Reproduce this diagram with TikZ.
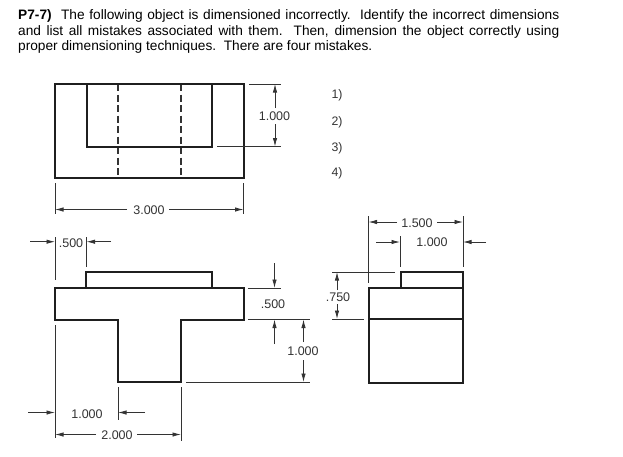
\documentclass[tikz,border=0pt]{standalone}
\usepackage{fontspec}
\setmainfont{Liberation Sans}
\usetikzlibrary{arrows.meta}
\definecolor{dimc}{gray}{0.2}
\tikzset{
  x=1pt,y=-1pt,
  obj/.style={draw=black!88,line width=2pt,line join=miter},
  thinobj/.style={draw=black!88,line width=2pt},
  hid/.style={draw=black!80,line width=1.5pt,dash pattern=on 7pt off 3.5pt},
  ext/.style={draw=dimc,line width=0.8pt},
  dimarr/.style={draw=dimc,line width=0.8pt,-{Latex[length=8.5pt,width=4.4pt]}},
  dimtxt/.style={text=dimc,font=\fontsize{12.5pt}{14pt}\selectfont,inner sep=0pt},
  titletxt/.style={anchor=base west,inner sep=0pt,text=black,font=\fontsize{13.7pt}{16pt}\selectfont},
  listtxt/.style={text=dimc,font=\fontsize{12.3pt}{14pt}\selectfont,inner sep=0pt}
}
\begin{document}
\begin{tikzpicture}
\useasboundingbox (0,0) rectangle (623,456);
% title
\node[titletxt] (t1) at (18,19.5) {\makebox[541pt][s]{\textbf{P7-7)}\ \ The following object is dimensioned incorrectly.\ \ Identify the incorrect dimensions}};
\node[titletxt] (t2) at (18,35) {\makebox[541pt][s]{and list all mistakes associated with them.\ \ Then, dimension the object correctly using}};
\node[titletxt] (t3) at (18,50.5) {proper dimensioning techniques.\ \ There are four mistakes.};
% list
\node[listtxt] (l1) at (337,95) {1)};
\node[listtxt] (l2) at (337,122) {2)};
\node[listtxt] (l3) at (337,148) {3)};
\node[listtxt] (l4) at (337,173) {4)};
% top view
\draw[hid] (118,84) -- (118,178);
\draw[hid] (181,84) -- (181,178);
\draw[obj] (55,84) rectangle (244,178);
\draw[thinobj] (86.5,84) -- (86.5,147) -- (212,147) -- (212,84);
% front view
\draw[thinobj] (86,288) -- (86,272) -- (212,272) -- (212,288);
\draw[obj] (55,288) -- (244,288) -- (244,319.5) -- (181,319.5) -- (181,382) -- (118,382) -- (118,319.5) -- (55,319.5) -- cycle;
% side view
\draw[thinobj] (400.5,288) -- (400.5,272) -- (463,272);
\draw[obj] (368.5,382.5) -- (368.5,288) -- (463,288) -- (463,382.5) -- cycle;
\draw[obj] (463,288) -- (463,271);
\draw[thinobj] (368.5,319) -- (463,319);
% labels
\node[dimtxt] (d1) at (274.5,116) {1.000};
\node[dimtxt] (d2) at (149,210) {3.000};
\node[dimtxt] (d3) at (71,243) {.500};
\node[dimtxt] (d4) at (273,304) {.500};
\node[dimtxt] (d5) at (303,351) {1.000};
\node[dimtxt] (d6) at (87,414.5) {1.000};
\node[dimtxt] (d7) at (117,435.5) {2.000};
\node[dimtxt] (d8) at (417,223) {1.500};
\node[dimtxt] (d9) at (432,242.5) {1.000};
\node[dimtxt] (d10) at (338,297) {.750};
% 1.000 top
\draw[ext] (249,84) -- (281,84) (217,146.5) -- (281,146.5);
\draw[dimarr] (275,108) -- (275,84);
\draw[dimarr] (275,124) -- (275,146.5);
% 3.000
\draw[ext] (55,183) -- (55,214) (243.5,183) -- (243.5,214);
\draw[dimarr] (127,209.5) -- (55,209.5);
\draw[dimarr] (169,209.5) -- (243.5,209.5);
% .500 top
\draw[ext] (55,237) -- (55,280) (86.5,237) -- (86.5,267);
\draw[dimarr] (30,241.7) -- (55,241.7);
\draw[dimarr] (111,241.7) -- (86.5,241.7);
% .500 right
\draw[ext] (248,288) -- (281,288) (248,319.5) -- (310,319.5);
\draw[dimarr] (274.5,263) -- (274.5,288);
\draw[dimarr] (274.5,344) -- (274.5,319.5);
% 1.000 right
\draw[ext] (186,382) -- (310,382);
\draw[dimarr] (303.5,342) -- (303.5,319.5);
\draw[dimarr] (303.5,360) -- (303.5,382);
% bottom
\draw[ext] (55,325) -- (55,438) (118,387) -- (118,420) (181,387) -- (181,441);
\draw[dimarr] (28,412.5) -- (55,412.5);
\draw[dimarr] (145,412.5) -- (118,412.5);
\draw[dimarr] (96,434.5) -- (55,434.5);
\draw[dimarr] (137,434.5) -- (181,434.5);
% side dims
\draw[ext] (368.5,216) -- (368.5,283) (463,216) -- (463,267) (400,236) -- (400,267);
\draw[dimarr] (397,222) -- (368.5,222);
\draw[dimarr] (437,222) -- (463,222);
\draw[dimarr] (376,242) -- (400,242);
\draw[dimarr] (486,242) -- (463,242);
\draw[ext] (332,272) -- (395,272) (332,319) -- (364,319);
\draw[dimarr] (337,290) -- (337,272);
\draw[dimarr] (337,304) -- (337,319);
\end{tikzpicture}
\end{document}
